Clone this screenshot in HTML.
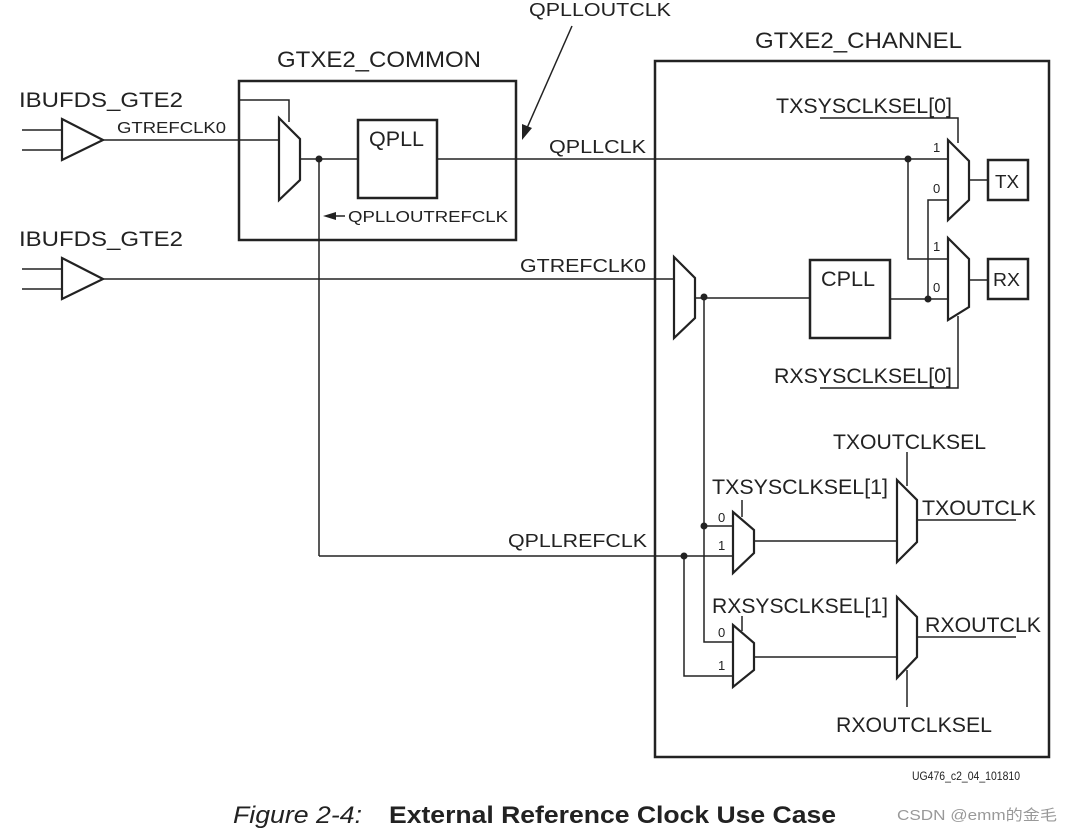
<!DOCTYPE html>
<html><head><meta charset="utf-8"><style>
html,body{margin:0;padding:0;background:#fff;}
svg{display:block;font-family:"Liberation Sans",Arial,sans-serif;}
</style></head><body>
<svg width="1072" height="832" viewBox="0 0 1072 832" xmlns="http://www.w3.org/2000/svg">
<g fill="none" stroke="#222" stroke-width="1.5">
<line x1="22" y1="130" x2="62" y2="130"/><line x1="22" y1="150" x2="62" y2="150"/>
<polygon points="62,119 103,140 62,160" stroke-width="2.2"/>
<line x1="22" y1="269" x2="62" y2="269"/><line x1="22" y1="289" x2="62" y2="289"/>
<polygon points="62,258 103,279 62,299" stroke-width="2.2"/>
<rect x="239" y="81" width="277" height="159" stroke-width="2.5"/>
<polyline points="239,100 289,100 289,122"/>
<line x1="103" y1="140" x2="279" y2="140"/>
<polygon points="279,118 300,139 300,180 279,200" stroke-width="2.2"/>
<line x1="300" y1="159" x2="358" y2="159"/>
<rect x="358" y="120" width="79" height="78" stroke-width="2.5"/>
<line x1="437" y1="159" x2="948" y2="159"/>
<line x1="319" y1="159" x2="319" y2="556"/>
<line x1="319" y1="556" x2="733" y2="556"/>
<line x1="334" y1="216" x2="345" y2="216"/>
<line x1="572" y1="26" x2="527" y2="128"/>
<rect x="655" y="61" width="394" height="696" stroke-width="2.5"/>
<line x1="103" y1="279" x2="674" y2="279"/>
<polygon points="674,257 695,278 695,318 674,338" stroke-width="2.2"/>
<line x1="695" y1="298" x2="810" y2="298"/>
<rect x="810" y="260" width="80" height="78" stroke-width="2.5"/>
<line x1="890" y1="299" x2="948" y2="299"/>
<polyline points="820,118 958,118 958,143"/>
<polygon points="948,140 969,161 969,200 948,220" stroke-width="2.2"/>
<polyline points="948,200 928,200 928,299"/>
<polyline points="908,159 908,259 948,259"/>
<line x1="969" y1="180" x2="988" y2="180"/>
<rect x="988" y="160" width="40" height="40" stroke-width="2.5"/>
<polygon points="948,238 969,259 969,307 948,320" stroke-width="2.2"/>
<polyline points="958,316 958,388 820,388"/>
<line x1="969" y1="280" x2="988" y2="280"/>
<rect x="988" y="259" width="40" height="40" stroke-width="2.5"/>
<polyline points="704,298 704,642 733,642"/>
<line x1="704" y1="526" x2="733" y2="526"/>
<polyline points="684,556 684,676 733,676"/>
<polygon points="733,512 754,530 754,553 733,573" stroke-width="2.2"/>
<line x1="742" y1="500" x2="742" y2="517"/>
<line x1="754" y1="541" x2="897" y2="541"/>
<polygon points="897,480 917,500 917,542 897,562" stroke-width="2.2"/>
<line x1="907" y1="452" x2="907" y2="486"/>
<line x1="917" y1="520" x2="1016" y2="520"/>
<polygon points="733,625 754,643 754,670 733,687" stroke-width="2.2"/>
<line x1="742" y1="616" x2="742" y2="631"/>
<line x1="754" y1="657" x2="897" y2="657"/>
<polygon points="897,597 917,617 917,657 897,678" stroke-width="2.2"/>
<line x1="907" y1="670" x2="907" y2="707"/>
<line x1="917" y1="637" x2="1016" y2="637"/>
</g>
<g fill="#222">
<polygon points="323,216 336,212 336,220"/>
<polygon points="522,140 522,124 532,128"/>
<circle cx="319" cy="159" r="3.5"/><circle cx="908" cy="159" r="3.5"/>
<circle cx="928" cy="299" r="3.5"/><circle cx="704" cy="297" r="3.5"/>
<circle cx="704" cy="526" r="3.5"/><circle cx="684" cy="556" r="3.5"/>
</g>
<g fill="#222" font-size="21" lengthAdjust="spacingAndGlyphs">
<text x="19" y="107" textLength="164" lengthAdjust="spacingAndGlyphs">IBUFDS_GTE2</text>
<text x="19" y="246" textLength="164" lengthAdjust="spacingAndGlyphs">IBUFDS_GTE2</text>
<text x="277" y="67" font-size="22" textLength="204" lengthAdjust="spacingAndGlyphs">GTXE2_COMMON</text>
<text x="755" y="48" font-size="22" textLength="207" lengthAdjust="spacingAndGlyphs">GTXE2_CHANNEL</text>
<text x="529" y="16" font-size="18" textLength="142" lengthAdjust="spacingAndGlyphs">QPLLOUTCLK</text>
<text x="117" y="133" font-size="16" textLength="109" lengthAdjust="spacingAndGlyphs">GTREFCLK0</text>
<text x="369" y="146" textLength="55" lengthAdjust="spacingAndGlyphs">QPLL</text>
<text x="348" y="222" font-size="16" textLength="160" lengthAdjust="spacingAndGlyphs">QPLLOUTREFCLK</text>
<text x="549" y="153" font-size="18" textLength="97" lengthAdjust="spacingAndGlyphs">QPLLCLK</text>
<text x="520" y="272" font-size="18" textLength="126" lengthAdjust="spacingAndGlyphs">GTREFCLK0</text>
<text x="508" y="547" font-size="18" textLength="139" lengthAdjust="spacingAndGlyphs">QPLLREFCLK</text>
<text x="776" y="113" textLength="176" lengthAdjust="spacingAndGlyphs">TXSYSCLKSEL[0]</text>
<text x="774" y="383" textLength="178" lengthAdjust="spacingAndGlyphs">RXSYSCLKSEL[0]</text>
<text x="821" y="286" textLength="54" lengthAdjust="spacingAndGlyphs">CPLL</text>
<text x="995" y="188" font-size="18" textLength="24" lengthAdjust="spacingAndGlyphs">TX</text>
<text x="993" y="286" font-size="18" textLength="27" lengthAdjust="spacingAndGlyphs">RX</text>
<text x="833" y="449" textLength="153" lengthAdjust="spacingAndGlyphs">TXOUTCLKSEL</text>
<text x="712" y="494" textLength="176" lengthAdjust="spacingAndGlyphs">TXSYSCLKSEL[1]</text>
<text x="922" y="515" textLength="114" lengthAdjust="spacingAndGlyphs">TXOUTCLK</text>
<text x="712" y="613" textLength="176" lengthAdjust="spacingAndGlyphs">RXSYSCLKSEL[1]</text>
<text x="925" y="632" textLength="116" lengthAdjust="spacingAndGlyphs">RXOUTCLK</text>
<text x="836" y="732" textLength="156" lengthAdjust="spacingAndGlyphs">RXOUTCLKSEL</text>
<g font-size="13">
<text x="933" y="152">1</text><text x="933" y="193">0</text>
<text x="933" y="251">1</text><text x="933" y="292">0</text>
<text x="718" y="522">0</text><text x="718" y="550">1</text>
<text x="718" y="637">0</text><text x="718" y="670">1</text>
</g>
<text x="912" y="780" font-size="12" textLength="108" lengthAdjust="spacingAndGlyphs">UG476_c2_04_101810</text>
<text x="233" y="823" font-size="24" font-style="italic" textLength="129" lengthAdjust="spacingAndGlyphs">Figure 2-4:</text>
<text x="389" y="823" font-size="24" font-weight="bold" textLength="447" lengthAdjust="spacingAndGlyphs">External Reference Clock Use Case</text>
<text x="897" y="820" font-size="15" fill="#999" textLength="160" lengthAdjust="spacingAndGlyphs" font-family="Liberation Sans,'Noto Sans CJK SC',sans-serif">CSDN @emm的金毛</text>
</g>
</svg>
</body></html>
